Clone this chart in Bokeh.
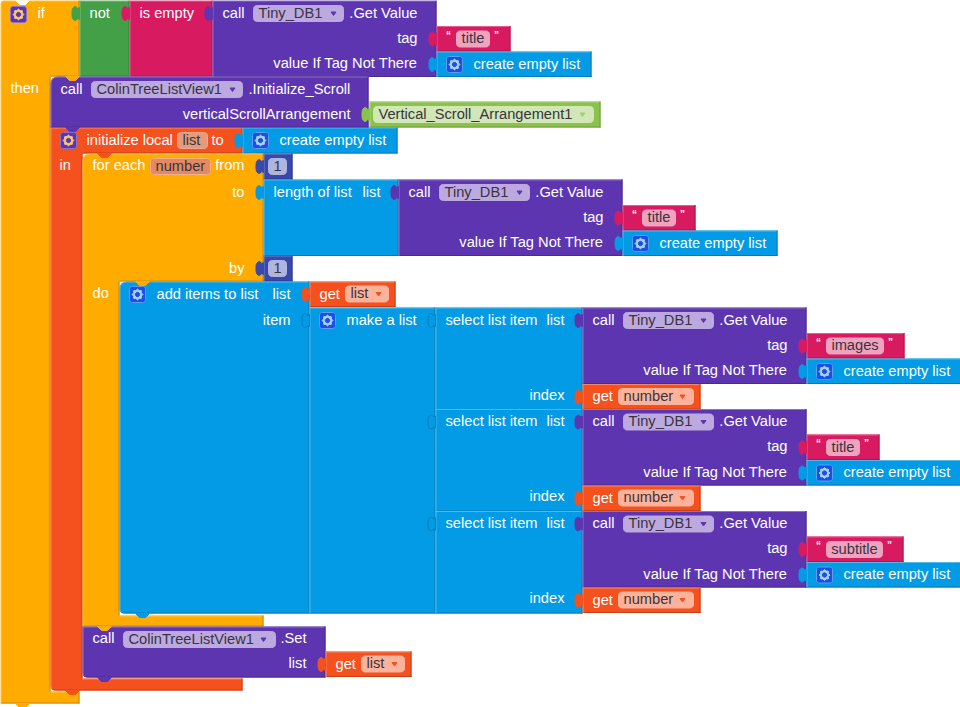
from math import hypot, cos, sin, pi

from bokeh.core.properties import value
from bokeh.embed import file_html
from bokeh.models import Range1d
from bokeh.plotting import figure
from bokeh.resources import INLINE

# Block texts
db_name = "Tiny_DB1"
list_view_name = "ColinTreeListView1"
scroll_name = "Vertical_Scroll_Arrangement1"
get_value_labels = [".Get Value", "tag", "value If Tag Not There"]
item_tags = ["images", "title", "subtitle"]
index_labels = ["select list item", "list", "index"]
loop_labels = ["for each", "number", "from", "to", "by", "do"]
loop_bounds = ["1", "1"]

# Block colours: fill, light edge, dark edge
YELLOW = ("#FFAB00", "#FFC34D", "#CC8900")
ORANGE = ("#F4511E", "#F88562", "#C34118")
PURPLE = ("#5E35B1", "#8E72C8", "#4B2A8E")
BLUE = ("#039BE5", "#4FB9ED", "#027CB7")
GREEN = ("#43A047", "#7BBD7E", "#368039")
PINK = ("#D81B60", "#E45F90", "#AD164D")
NAVY = ("#3949AB", "#7480C4", "#2E3A89")
LIME = ("#8BC34A", "#AED580", "#6F9C3B")

# pill fill, pill edge, arrow colour per block colour
PILLS = {
    PURPLE: ("#BCA9DF", "#BCA9DF", "#5E35B1"),
    ORANGE: ("#FCB29B", "#FCB29B", "#F4511E"),
    PINK: ("#EFA3BF", "#EFA3BF", "#D81B60"),
    LIME: ("#D1E7B7", "#D1E7B7", "#A5CF73"),
    NAVY: ("#AEB5DE", "#AEB5DE", "#3949AB"),
}
DARK_TEXT = "#3A3440"
FONT = "Liberation Sans"
SIZE = "14.67px"
TEXT_DY = -1  # middle baseline renders a pixel low

p = figure(width=960, height=707, x_range=Range1d(0, 960), y_range=Range1d(707, 0),
           x_axis_type=None, y_axis_type=None, output_backend="svg",
           toolbar_location=None, min_border=0)
p.grid.visible = False
p.outline_line_color = None
p.background_fill_color = "white"
p.border_fill_color = "white"

bodies = dict(xs=[], ys=[], fill=[])
edges = dict(xs=[], ys=[], color=[])
tabs = dict(xs=[], ys=[], fill=[], line=[])
tops = dict(xs=[], ys=[], fill=[], line=[])
left_text = dict(x=[], y=[], text=[], color=[])
right_text = dict(x=[], y=[], text=[], color=[])
center_text = dict(x=[], y=[], text=[], color=[])
quote_text = dict(x=[], y=[], text=[])


def outline(pts):
    # pts are (x, y, corner radius), clockwise on screen
    xs, ys = [], []
    n = len(pts)
    for i, (x, y, r) in enumerate(pts):
        if r == 0:
            xs.append(x)
            ys.append(y)
            continue
        px, py, _ = pts[i - 1]
        nx, ny, _ = pts[(i + 1) % n]
        d1 = hypot(px - x, py - y)
        d2 = hypot(nx - x, ny - y)
        ax, ay = x + (px - x) * r / d1, y + (py - y) * r / d1
        bx, by = x + (nx - x) * r / d2, y + (ny - y) * r / d2
        for k in range(7):
            t = k / 6
            xs.append((1 - t) ** 2 * ax + 2 * t * (1 - t) * x + t ** 2 * bx)
            ys.append((1 - t) ** 2 * ay + 2 * t * (1 - t) * y + t ** 2 * by)
    return xs, ys


def body(pts, col):
    xs, ys = outline(pts)
    bodies["xs"].append(xs)
    bodies["ys"].append(ys)
    bodies["fill"].append(col[0])
    n = len(xs)
    for i in range(n):
        x0, y0, x1, y1 = xs[i], ys[i], xs[(i + 1) % n], ys[(i + 1) % n]
        dx, dy = x1 - x0, y1 - y0
        if abs(dx) >= abs(dy):
            off = (0, 0.5) if dx > 0 else (0, -0.5)
            color = col[1] if dx > 0 else col[2]
        else:
            off = (-0.5, 0) if dy > 0 else (0.5, 0)
            color = col[2] if dy > 0 else col[1]
        edges["xs"].append([x0 + off[0], x1 + off[0]])
        edges["ys"].append([y0 + off[1], y1 + off[1]])
        edges["color"].append(color)


def rect(x0, y0, x1, y1, col, r_tl=0, r_bl=0):
    body([(x0, y0, r_tl), (x1, y0, 0), (x1, y1, 0), (x0, y1, r_bl)], col)


def socket_tab(x, yc, col, line=None):
    # the puzzle tab on the left side of a value block
    shape = [(0, -6), (-2, -5), (-3, -6.5), (-5, -7), (-7, -5), (-7.5, -2), (-7.5, 2),
             (-7, 5), (-5, 7), (-3, 6.5), (-2, 5), (0, 6)]
    tabs["xs"].append([x + a for a, _ in shape])
    tabs["ys"].append([yc + b for _, b in shape])
    tabs["fill"].append(col[0])
    tabs["line"].append(line or col[0])


def notch(cx, y, fill):
    # the small tab that joins statement blocks
    shape = [(-7, 0), (-3, 4), (3, 4), (7, 0)]
    tabs["xs"].append([cx + a for a, _ in shape])
    tabs["ys"].append([y + b for _, b in shape])
    tabs["fill"].append(fill)
    tabs["line"].append(fill)


def label(x, y, text, color="white"):
    left_text["x"].append(x)
    left_text["y"].append(y + TEXT_DY)
    left_text["text"].append(text)
    left_text["color"].append(color)


def rlabel(x, y, text, color="white"):
    right_text["x"].append(x)
    right_text["y"].append(y + TEXT_DY)
    right_text["text"].append(text)
    right_text["color"].append(color)


def clabel(x, y, text, color=DARK_TEXT):
    center_text["x"].append(x)
    center_text["y"].append(y + TEXT_DY)
    center_text["text"].append(text)
    center_text["color"].append(color)


def pill(x0, y0, x1, y1, fill, line=None, r=4):
    xs, ys = outline([(x0, y0, r), (x1, y0, r), (x1, y1, r), (x0, y1, r)])
    tops["xs"].append(xs)
    tops["ys"].append(ys)
    tops["fill"].append(fill)
    tops["line"].append(line or fill)


def arrow(cx, cy, color):
    tops["xs"].append([cx - 2.5, cx + 2.5, cx])
    tops["ys"].append([cy - 1.5, cy - 1.5, cy + 2])
    tops["fill"].append(color)
    tops["line"].append(color)


def dropdown(x0, x1, y, col, text, arrow_x):
    fill, line, arr = PILLS[col]
    pill(x0, y, x1, y + 16, fill, line)
    label(x0 + 5, y + 8, text, DARK_TEXT)
    arrow(arrow_x, y + 8, arr)


def icon(cx, cy, bg, edge, gear_color):
    pill(cx - 8, cy - 8, cx + 8, cy + 8, bg, edge, r=3)
    xs, ys = [], []
    for k in range(16):
        a = 2 * pi * k / 16
        r = 5.4 if k % 2 == 0 else 4.2
        xs.append(cx + r * cos(a))
        ys.append(cy + r * sin(a))
    tops["xs"].append(xs)
    tops["ys"].append(ys)
    tops["fill"].append(gear_color)
    tops["line"].append(gear_color)
    hole = [2 * pi * k / 12 for k in range(12)]
    tops["xs"].append([cx + 2.2 * cos(a) for a in hole])
    tops["ys"].append([cy + 2.2 * sin(a) for a in hole])
    tops["fill"].append(bg)
    tops["line"].append(bg)


def empty_list(x, y, h=25.5):
    rect(x, y, x + 155, y + h, BLUE)
    socket_tab(x, y + 13, BLUE)
    icon(x + 18, y + 13, "#1A4FE8", "#5C9DF0", "#A8D4F5")
    label(x + 37, y + 13, "create empty list")


def text_block(x, y, x1, word, pill_right):
    rect(x, y, x1, y + 25.5, PINK)
    socket_tab(x, y + 13, PINK)
    pill(x + 20, y + 5, pill_right, y + 21, PILLS[PINK][0])
    clabel((x + 20 + pill_right) / 2, y + 13, word)
    for qx, mark in [(x + 12, "\u201c"), (pill_right + 7, "\u201d")]:
        quote_text["x"].append(qx)
        quote_text["y"].append(y + 9)
        quote_text["text"].append(mark)


def get_value(x, y, tag, tag_w, tag_pill):
    body([(x, y, 0), (x + 224, y, 0), (x + 224, y + 76.5, 0), (x, y + 76.5, 0)], PURPLE)
    socket_tab(x, y + 13, PURPLE)
    label(x + 10, y + 13, "call")
    dropdown(x + 41, x + 131, y + 5, PURPLE, db_name, x + 121)
    rlabel(x + 205, y + 13, get_value_labels[0])
    rlabel(x + 205, y + 38, get_value_labels[1])
    rlabel(x + 205, y + 63.5, get_value_labels[2])
    text_block(x + 224, y + 25.5, x + 224 + tag_w, tag, x + 224 + tag_pill)
    empty_list(x + 224, y + 51)


def get_var(x, y, w, name, pill_w, arrow_x):
    rect(x, y, x + w, y + 25.5, ORANGE)
    socket_tab(x, y + 13, ORANGE)
    label(x + 10, y + 13, "get")
    dropdown(x + 36, x + pill_w, y + 4.5, ORANGE, name, x + arrow_x)


def number(x, y, text):
    rect(x, y, x + 29, y + 26, NAVY)
    socket_tab(x, y + 13, NAVY)
    pill(x + 5, y + 5, x + 23, y + 21, PILLS[NAVY][0])
    clabel(x + 14, y + 13, text)


# if
body([(0, 0, 4), (79, 0, 0), (79, 76, 0), (50, 76, 0), (50, 691, 0), (79, 691, 0),
      (79, 703, 0), (0, 703, 0)], YELLOW)
notch(22, 0, "white")
notch(22, 703, YELLOW[0])
icon(18, 14, "#5E35B1", "#8E72C8", "#F5C97A")
label(37, 13, "if")
label(10, 88, "then")

rect(79, 0, 129, 76, GREEN)
socket_tab(79, 13, GREEN)
label(89, 13, "not")
rect(129, 0, 212, 76, PINK)
socket_tab(129, 13, PINK)
label(139, 13, "is empty")
get_value(212, 0, "title", 74, 53)

# local variable
body([(50, 127, 0), (242, 127, 0), (242, 153, 0), (82, 153, 0), (82, 678, 0), (242, 678, 0),
      (242, 690, 0), (50, 690, 5)], ORANGE)
notch(72, 690, ORANGE[0])
icon(68, 140, "#5E35B1", "#8E72C8", "#F5C97A")
label(86, 140, "initialize local")
pill(177, 132, 207, 148, "#E59A7C", "#EDAA8E")
label(182, 140, "list", DARK_TEXT)
label(211, 140, "to")
label(59, 165, "in")
empty_list(242, 127, 26)

# Initialize_Scroll
rect(50, 76, 368, 127, PURPLE, r_tl=8)
notch(72, 76, YELLOW[0])
notch(72, 127, PURPLE[0])
label(60, 89, "call")
dropdown(91, 242, 81, PURPLE, list_view_name, 232)
label(248, 89, ".Initialize_Scroll")
rlabel(350, 114, "verticalScrollArrangement")
rect(369, 101, 600, 127, LIME)
socket_tab(369, 114, LIME)
dropdown(373, 593, 106, LIME, scroll_name, 582)

# for each
body([(82, 153, 8), (263, 153, 0), (263, 281, 0), (119, 281, 0), (119, 615, 0), (263, 615, 0),
      (263, 626, 0), (82, 626, 0)], YELLOW)
notch(104, 153, ORANGE[0])
label(92, 165, loop_labels[0])
pill(150, 158, 210, 174, "#E58A60", "#F0AF8F")
label(155, 166, loop_labels[1], DARK_TEXT)
rlabel(244, 165, loop_labels[2])
rlabel(244, 192, loop_labels[3])
rlabel(244, 268, loop_labels[4])
label(92, 293, loop_labels[5])
number(263, 153, loop_bounds[0])
number(263, 255, loop_bounds[1])

rect(263, 179, 398, 255.5, BLUE)
socket_tab(263, 192, BLUE)
label(273, 192, "length of list")
rlabel(380, 192, "list")
get_value(398, 179, "title", 73, 53)

# add items to list
rect(119, 281, 309, 613, BLUE, r_tl=8, r_bl=5)
notch(142, 281, YELLOW[0])
notch(142, 613, BLUE[0])
icon(137, 294, "#1A4FE8", "#5C9DF0", "#A8D4F5")
label(156, 294, "add items to list")
rlabel(290, 294, "list")
rlabel(290, 320, "item")
get_var(309, 281, 86, "list", 79, 69)

rect(309, 307, 435, 613, BLUE)
socket_tab(309, 320, BLUE, BLUE[2])
icon(327, 320, "#1A4FE8", "#5C9DF0", "#A8D4F5")
label(346, 320, "make a list")

tag_widths = [98, 73, 97]
tag_pills = [77, 53, 76]
row_tops = [307, 408.5, 510.5]
for row_y, tag, tw, tp in zip(row_tops, item_tags, tag_widths, tag_pills):
    rect(435, row_y, 582, row_y + 102.5, BLUE)
    socket_tab(435, row_y + 13, BLUE, BLUE[2])
    label(445, row_y + 13, index_labels[0])
    rlabel(564, row_y + 13, index_labels[1])
    rlabel(564, row_y + 88, index_labels[2])
    get_value(582, row_y, tag, tw, tp)
    get_var(582, row_y + 76.5, 118, "number", 111, 100)

# Set
rect(82, 626, 325, 677, PURPLE, r_bl=5)
notch(104, 626, YELLOW[0])
notch(104, 677, PURPLE[0])
label(92, 638, "call")
dropdown(123, 275, 631, PURPLE, list_view_name, 263)
label(280, 638, ".Set")
rlabel(306, 663, "list")
get_var(325, 651, 86, "list", 79, 69)

p.patches("xs", "ys", fill_color="fill", line_color=None, source=bodies)
p.multi_line("xs", "ys", line_color="color", line_width=1, source=edges)
p.patches("xs", "ys", fill_color="fill", line_color="line", line_width=1, source=tabs)
p.patches("xs", "ys", fill_color="fill", line_color="line", line_width=1, source=tops)
p.text("x", "y", text="text", text_color="color", text_font=value(FONT), text_font_size=SIZE,
       text_align="left", text_baseline="middle", source=left_text)
p.text("x", "y", text="text", text_color="color", text_font=value(FONT), text_font_size=SIZE,
       text_align="right", text_baseline="middle", source=right_text)
p.text("x", "y", text="text", text_color="color", text_font=value(FONT), text_font_size=SIZE,
       text_align="center", text_baseline="middle", source=center_text)
p.text("x", "y", text="text", text_color="white", text_font=value(FONT), text_font_size="10px",
       text_font_style="bold", text_align="center", text_baseline="middle", source=quote_text)

open("out.html", "w").write(file_html(p, INLINE))
